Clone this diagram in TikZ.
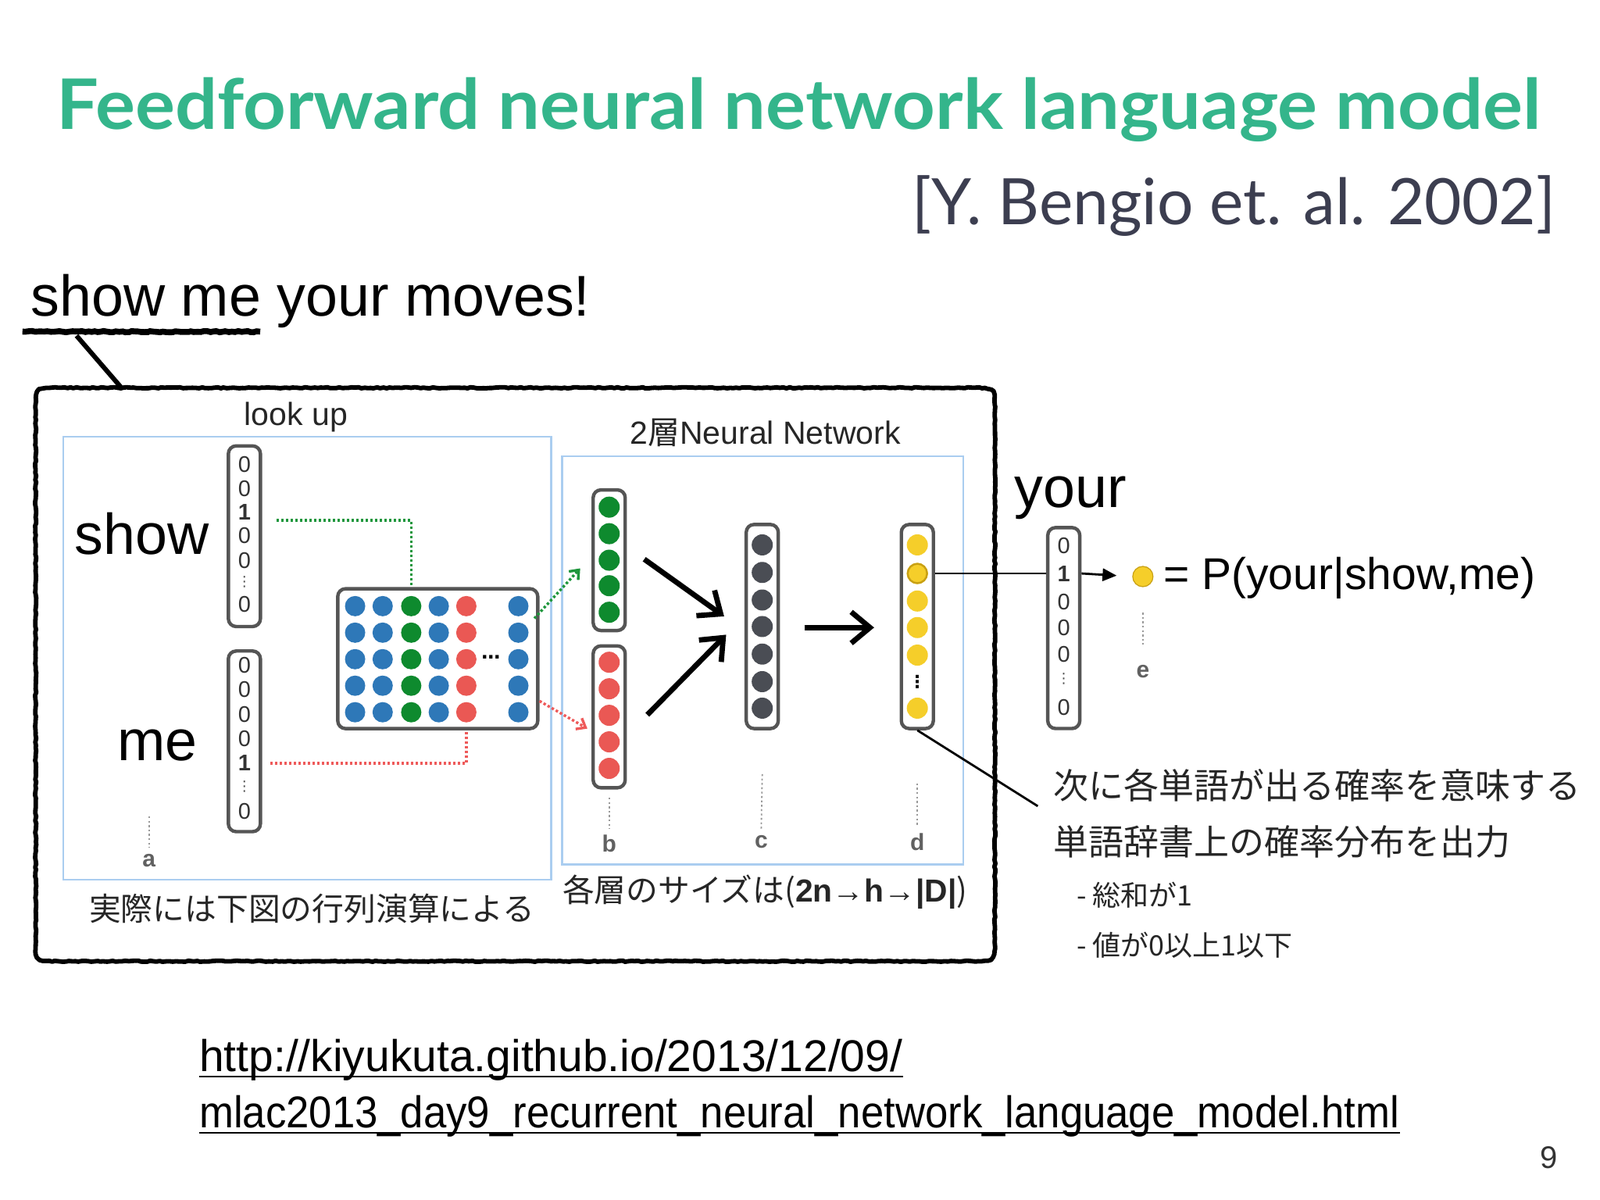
\documentclass[tikz,border=0pt]{standalone}
\usepackage{fontspec}
\setmainfont{Liberation Sans}
\newfontfamily\jp{Noto Sans CJK JP}
\newfontfamily\lato{Lato}
\newfontfamily\dejavu{DejaVu Sans}
\usetikzlibrary{arrows.meta,decorations.pathmorphing,calc}
\definecolor{tgreen}{RGB}{52,181,139}
\definecolor{subgray}{RGB}{60,62,80}
\definecolor{lblue}{RGB}{170,205,240}
\definecolor{mblue}{RGB}{46,120,184}
\definecolor{mgreen}{RGB}{14,138,46}
\definecolor{mred}{RGB}{234,88,84}
\definecolor{myellow}{RGB}{245,206,42}
\definecolor{yring}{RGB}{200,160,20}
\definecolor{dgray}{RGB}{74,77,84}
\definecolor{vgray}{RGB}{85,85,85}
\definecolor{dgreen}{RGB}{30,150,60}
\definecolor{dred}{RGB}{238,90,90}
\begin{document}
\begin{tikzpicture}[x=0.653pt,y=-0.653pt,
  vec/.style={draw=vgray, line width=2.2pt, rounded corners=5pt, fill=white, minimum width=20.5pt, inner sep=0},
  dotc/.style={circle, inner sep=0, minimum size=13.5pt},
  mdot/.style={circle, inner sep=0, minimum size=13pt},
  dig/.style={font=\fontsize{14.5}{14.5}\selectfont, text=black!80, inner sep=0},
  vdt/.style={font=\dejavu\fontsize{9}{9}\selectfont, text=black!70, inner sep=0},
  lab/.style={font=\bfseries\fontsize{15}{15}\selectfont, text=black!62, inner sep=0},
  guide/.style={draw=black!40, line width=0.9pt, dash pattern=on 1.2pt off 1.6pt},
  gdot/.style={draw=dgreen, line width=1.7pt, dash pattern=on 1.6pt off 1.4pt},
  rdot/.style={draw=dred, line width=1.7pt, dash pattern=on 1.6pt off 1.4pt},
  bigarr/.style={line width=3.4pt, -{Straight Barb[length=12pt,width=20pt]}},
  sketch/.style={line width=2.9pt, line join=round, decorate, decoration={random steps, segment length=2pt, amplitude=0.35pt}},
  bluebox/.style={draw=lblue, line width=1.3pt},
  big/.style={font=\fontsize{36.8}{40}\selectfont, inner sep=0},
  jtxt/.style={font=\jp\fontsize{22.5}{24}\selectfont, text=black!85, inner sep=0},
  jsmall/.style={font=\jp\fontsize{18}{20}\selectfont, text=black!85, inner sep=0},
  mid/.style={font=\fontsize{20.5}{22}\selectfont, text=black!85, inner sep=0}
]
\fill[white] (0,0) rectangle (1568,1176);
\useasboundingbox (0,0) rectangle (1568,1176);

% title
\node[anchor=base west, text=tgreen, font=\lato\bfseries\fontsize{44.6}{50}\selectfont, inner sep=0] (title) at (55,127) {\scalebox{1.07}[1]{Feedforward neural network language model}};
\node[anchor=base east, text=subgray, font=\lato\fontsize{41}{46}\selectfont, inner sep=0] (cite) at (1525,220) {[Y. Bengio et. al. 2002]};

% sentence
\node[big, anchor=base west] (sent) at (30,310) {show me your moves!};
\coordinate (ul1) at (22,325);
\coordinate (ul2) at (255,325);
\coordinate (dg1) at (75,329);
\coordinate (dg2) at (119,380);
\draw[line width=3.8pt, decorate, decoration={random steps, segment length=2pt, amplitude=0.4pt}] (ul1) -- (ul2);
\draw[line width=3pt] (dg1) -- (dg2);

% big sketch box
\coordinate (bx1) at (35,380);
\coordinate (bx2) at (975,942);
\draw[sketch] (57,380) -- (953,380) .. controls (975,380) .. (975,402) -- (975,920)
  .. controls (975,942) .. (953,942) -- (57,942) .. controls (35,942) .. (35,920)
  -- (35,402) .. controls (35,380) .. (57,380) -- cycle;

% blue boxes
\draw[bluebox] (62,428) rectangle (540,862);
\draw[bluebox] (551,447) rectangle (944,847);
\node[mid, anchor=base] (lookup) at (290,417) {look up};
\node[mid, anchor=base] (nnlab) at (750,435) {2{\jp 層}Neural Network};

% words
\node[big, anchor=base west] (wshow) at (73,543) {show};
\node[big, anchor=base west] (wme) at (115,745) {me};
\node[big, anchor=base west] (wyour) at (994,497) {your};

% one-hot vectors
\node[vec, minimum height=115.6pt] (vshow) at (239.5,525.5) {};
\foreach \t/\y [count=\i] in {0/455,0/479,{\textbf{1}}/502,0/525,0/549,0/592}
  \node[dig] (s\i) at (239.5,\y) {\t};
\node[vdt] (sdots) at (239.5,570) {⋮};

\node[vec, minimum height=115.6pt] (vme) at (239.5,726.5) {};
\foreach \t/\y [count=\i] in {0/652,0/676,0/700,0/724,{\textbf{1}}/748,0/795}
  \node[dig] (e\i) at (239.5,\y) {\t};
\node[vdt] (edots) at (239.5,771) {⋮};

\node[vec, minimum height=128.6pt] (vyour) at (1042.5,615.5) {};
\foreach \t/\y [count=\i] in {0/535,{\textbf{1}}/562,0/590,0/615,0/641,0/693}
  \node[dig] (y\i) at (1042.5,\y) {\t};
\node[vdt] (ydots) at (1042.5,665) {⋮};

% label a
\node[lab] (la) at (146,843) {a};
\coordinate (ga) at (146,800);
\draw[guide] (ga) -- ($(la.north)+(0,-6)$);

% matrix
\node[vec, minimum width=128pt, minimum height=89.5pt] (mat) at (429,645.5) {};
\foreach \cx/\col [count=\c] in {348/mblue,375/mblue,403/mgreen,430/mblue,457/mred,508/mblue}
  \foreach \ry [count=\r] in {594,620,646,672,698}
    \node[mdot, fill=\col] (m\r\c) at (\cx,\ry) {};
\node[font=\dejavu\bfseries\fontsize{12}{12}\selectfont, inner sep=0] (mdots) at (481,646) {⋯};

% dotted lookup connectors
\coordinate (gs) at (271,510);
\coordinate (rs) at (265,748);
\draw[gdot] (gs) -| (mat.north -| m13);
\draw[rdot] (rs) -| (mat.south -| m55);

% b vectors
\node[vec, minimum height=90pt] (bg) at (597,549) {};
\foreach \y [count=\i] in {497,523,549,574,600}
  \node[dotc, fill=mgreen] (bg\i) at (597,\y) {};
\node[vec, minimum height=90.8pt] (br) at (597,702.5) {};
\foreach \y [count=\i] in {649,675,701,727,753}
  \node[dotc, fill=mred] (br\i) at (597,\y) {};

\draw[gdot, -{Straight Barb[length=5pt,width=8pt]}] ($(mat.east)+(-5,-39.5)$) -- ($(bg.west)+(-11,8)$);
\draw[rdot, -{Straight Barb[length=5pt,width=8pt]}] ($(mat.east)+(0,41.5)$) -- ($(br.west)+(-4,11.5)$);

% c vector
\node[vec, minimum height=130.6pt] (vc) at (747,614) {};
\foreach \y [count=\i] in {534,561,588,614,641,668,694}
  \node[dotc, fill=dgray] (c\i) at (747,\y) {};

% d vector
\node[vec, minimum height=130.6pt] (vd) at (899,614) {};
\foreach \y [count=\i] in {534,562,589,615,642}
  \node[dotc, fill=myellow] (d\i) at (899,\y) {};
\node[dotc, fill=myellow] (d6) at (899,694) {};
\draw[yring, line width=1.2pt] (d2) circle (6.2pt);
\node[font=\dejavu\bfseries\fontsize{11}{11}\selectfont, inner sep=0] (ddots) at (899,668) {⋮};

% big arrows
\draw[bigarr] ($(bg.east)+(17,-1)$) -- ($(vc.west)+(-20,-10)$);
\draw[bigarr] ($(br.east)+(20,-2)$) -- ($(vc.west)+(-18,8)$);
\draw[bigarr] ($(vc.east)+(24,1)$) -- ($(vd.west)+(-25,1)$);

% labels b c d
\node[lab] (lb) at (597,827) {b};
\node[lab] (lc) at (746,825) {c};
\node[lab] (ld) at (899,825) {d};
\draw[guide] ($(br.south)+(0,8)$) -- ($(lb.north)+(0,-6)$);
\draw[guide] ($(vc.south)+(0,43)$) -- ($(lc.north)+(0,-6)$);
\draw[guide] ($(vd.south)+(0,52)$) -- ($(ld.north)+(0,-6)$);

% output
\draw[line width=1.4pt] (d2 -| vd.east) -- (d2 -| vyour.west);
\node[dotc, fill=myellow, draw=yring, line width=0.6pt, minimum size=13pt] (pdot) at (1120,565) {};
\draw[line width=1.4pt, -{Triangle[length=9pt,width=8pt]}, shorten >=10pt] (y2 -| vyour.east) -- (pdot.west);
\node[font=\fontsize{28.5}{30}\selectfont, inner sep=0, anchor=base west] (prob) at (1140,578) {= P(your|show,me)};
\node[lab] (le) at (1120,658) {e};
\draw[guide] ($(pdot.south)+(0,25)$) -- ($(le.north)+(0,-20)$);

% explanation
\node[jtxt, anchor=base west] (j1) at (1032,783) {次に各単語が出る確率を意味する};
\node[jtxt, anchor=base west] (j2) at (1032,838) {単語辞書上の確率分布を出力};
\node[jsmall, anchor=base west] (j3) at (1055,888) {- 総和が1};
\node[jsmall, anchor=base west] (j4) at (1055,937) {- 値が0以上1以下};
\draw[line width=1.4pt] (vd.south) -- ($(j1.base west)+(-15,7)$);

\node[jtxt, font=\jp\fontsize{20.4}{22}\selectfont, anchor=base west] (jmat) at (87,902) {実際には下図の行列演算による};
\node[jtxt, font=\jp\fontsize{20.4}{22}\selectfont, anchor=base west] (jsize) at (551,884) {各層のサイズは({\fontspec{Liberation Sans}\bfseries 2n→h→|D|})};

% url
\node[font=\fontsize{28.5}{30}\selectfont, inner sep=0, anchor=base west] (u1) at (195,1050) {http://kiyukuta.github.io/2013/12/09/};
\node[font=\fontsize{28.5}{30}\selectfont, inner sep=0, anchor=base west] (u2) at (195,1105) {\scalebox{0.925}[1]{mlac2013\_day9\_recurrent\_neural\_network\_language\_model.html}};
\draw[line width=1pt] ($(u1.base west)+(0,5)$) -- ($(u1.base east)+(0,5)$);
\draw[line width=1pt] ($(u2.base west)+(0,5)$) -- ($(u2.base east)+(0,5)$);

\node[font=\fontsize{20}{20}\selectfont, text=black!80, inner sep=0, anchor=base] (pg) at (1518,1145) {9};
\end{tikzpicture}
\end{document}
